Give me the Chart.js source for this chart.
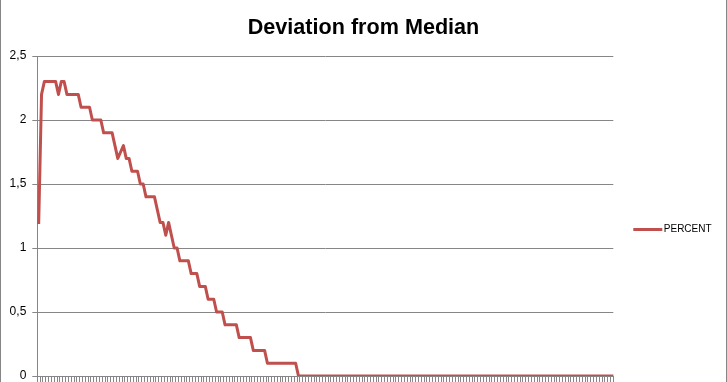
<!DOCTYPE html>
<html>
<head>
<meta charset="utf-8">
<script src="https://cdn.jsdelivr.net/npm/chart.js@4/dist/chart.umd.min.js"></script>
<style>
  html, body { margin: 0; padding: 0; background: #fff; }
  #wrap { position: relative; width: 727px; height: 382px; overflow: hidden; }
  canvas { display: block; }
</style>
</head>
<body>
<div id="wrap"><canvas id="c" width="727" height="382"></canvas></div>
<script>
const chartTitle = 'Deviation from Median';
const seriesName = 'PERCENT';
const yTickLabels = ['0', '0,5', '1', '1,5', '2', '2,5'];

const categories = [
  1,2,3,4,5,6,7,8,9,10,11,12,13,14,15,16,17,18,19,20,
  21,22,23,24,25,26,27,28,29,30,31,32,33,34,35,36,37,38,39,40,
  41,42,43,44,45,46,47,48,49,50,51,52,53,54,55,56,57,58,59,60,
  61,62,63,64,65,66,67,68,69,70,71,72,73,74,75,76,77,78,79,80,
  81,82,83,84,85,86,87,88,89,90,91,92,93,94,95,96,97,98,99,100,
  101,102,103,104,105,106,107,108,109,110,111,112,113,114,115,116,117,118,119,120,
  121,122,123,124,125,126,127,128,129,130,131,132,133,134,135,136,137,138,139,140,
  141,142,143,144,145,146,147,148,149,150,151,152,153,154,155,156,157,158,159,160,
  161,162,163,164,165,166,167,168,169,170,171,172,173,174,175,176,177,178,179,180,
  181,182,183,184,185,186,187,188,189,190,191,192,193,194,195,196,197,198,199,200,
  201,202,203,204
];

const percentValues = [
  1.2, 2.2,
  2.3, 2.3, 2.3, 2.3, 2.3,
  2.2,
  2.3, 2.3,
  2.2, 2.2, 2.2, 2.2, 2.2,
  2.1, 2.1, 2.1, 2.1,
  2.0, 2.0, 2.0, 2.0,
  1.9, 1.9, 1.9, 1.9,
  1.8, 1.7, 1.75, 1.8,
  1.7, 1.7,
  1.6, 1.6, 1.6,
  1.5, 1.5,
  1.4, 1.4, 1.4, 1.4,
  1.3,
  1.2, 1.2,
  1.1, 1.2, 1.1,
  1.0, 1.0,
  0.9, 0.9, 0.9, 0.9,
  0.8, 0.8, 0.8,
  0.7, 0.7, 0.7,
  0.6, 0.6, 0.6,
  0.5, 0.5, 0.5,
  0.4, 0.4, 0.4, 0.4, 0.4,
  0.3, 0.3, 0.3, 0.3, 0.3,
  0.2, 0.2, 0.2, 0.2, 0.2,
  0.1, 0.1, 0.1, 0.1, 0.1, 0.1, 0.1, 0.1, 0.1, 0.1, 0.1,
  0,0,0,0,0,0,0,0,0,0,
  0,0,0,0,0,0,0,0,0,0,
  0,0,0,0,0,0,0,0,0,0,
  0,0,0,0,0,0,0,0,0,0,
  0,0,0,0,0,0,0,0,0,0,
  0,0,0,0,0,0,0,0,0,0,
  0,0,0,0,0,0,0,0,0,0,
  0,0,0,0,0,0,0,0,0,0,
  0,0,0,0,0,0,0,0,0,0,
  0,0,0,0,0,0,0,0,0,0,
  0,0,0,0,0,0,0,0,0,0,
  0,0
];

const axisGray = '#868686';
const lineRed = '#C0504D';
const baseFont = '"Liberation Sans", Arial, sans-serif';

const legendAndFrame = {
  id: 'legendAndFrame',
  beforeDraw(chart) {
    const ctx = chart.ctx;
    ctx.save();
    ctx.fillStyle = '#ffffff';
    ctx.fillRect(0, 0, chart.width, chart.height);
    ctx.restore();
  },
  afterDraw(chart) {
    const ctx = chart.ctx;
    const ds = chart.data.datasets[0];
    const area = chart.chartArea;
    ctx.save();
    ctx.fillStyle = axisGray;
    ctx.fillRect(0, 0, 1, chart.height);
    ctx.fillRect(chart.width - 1, 0, 1, chart.height);
    const lx = area.right + 20;
    const ly = 229.5;
    ctx.strokeStyle = ds.borderColor;
    ctx.lineWidth = 3;
    ctx.beginPath();
    ctx.moveTo(lx, ly);
    ctx.lineTo(lx + 29, ly);
    ctx.stroke();
    ctx.fillStyle = '#000';
    ctx.font = '10px ' + baseFont;
    ctx.textBaseline = 'middle';
    ctx.textAlign = 'left';
    ctx.fillText(ds.label, lx + 30.5, ly);
    ctx.restore();
  }
};

new Chart(document.getElementById('c'), {
  type: 'line',
  data: {
    labels: categories,
    datasets: [{
      label: seriesName,
      data: percentValues,
      borderColor: lineRed,
      backgroundColor: lineRed,
      borderWidth: 3,
      pointRadius: 0,
      pointHoverRadius: 0,
      tension: 0,
      borderJoinStyle: 'round',
      borderCapStyle: 'square',
      fill: false,
      yAxisID: 'y'
    }]
  },
  options: {
    responsive: false,
    animation: false,
    devicePixelRatio: 1,
    layout: { padding: { left: 0, right: 0, top: 0, bottom: 0 } },
    plugins: {
      legend: { display: false },
      tooltip: { enabled: false },
      title: {
        display: true,
        text: chartTitle,
        color: '#000',
        font: { family: baseFont, size: 21.6, weight: 'bold', lineHeight: 1.2 },
        padding: { top: 15, bottom: 15.1 }
      }
    },
    scales: {
      x: {
        type: 'category',
        offset: true,
        grid: {
          offset: true,
          drawOnChartArea: false,
          drawTicks: true,
          tickLength: 6,
          color: axisGray,
          lineWidth: 1
        },
        border: { display: true, color: axisGray, width: 1 },
        ticks: { display: false, autoSkip: false }
      },
      y: {
        position: 'left',
        min: 0,
        max: 2.5,
        afterFit(scale) {
          scale.width = 37.3;
          scale.paddingTop = 0;
          scale.paddingBottom = 0;
        },
        grid: {
          color: axisGray,
          lineWidth: 1,
          drawTicks: true,
          tickLength: 5
        },
        border: { display: true, color: axisGray, width: 1 },
        ticks: {
          stepSize: 0.5,
          padding: 6,
          color: '#000',
          font: { family: baseFont, size: 12 },
          callback: function (value, index) {
            return yTickLabels[index] !== undefined ? yTickLabels[index] : String(value).replace('.', ',');
          }
        }
      },
      legendSpace: {
        type: 'linear',
        position: 'right',
        display: true,
        afterFit(scale) { scale.width = 113.7; },
        grid: { display: false, drawTicks: false },
        border: { display: false },
        ticks: { display: false }
      }
    }
  },
  plugins: [legendAndFrame]
});
</script>
</body>
</html>
